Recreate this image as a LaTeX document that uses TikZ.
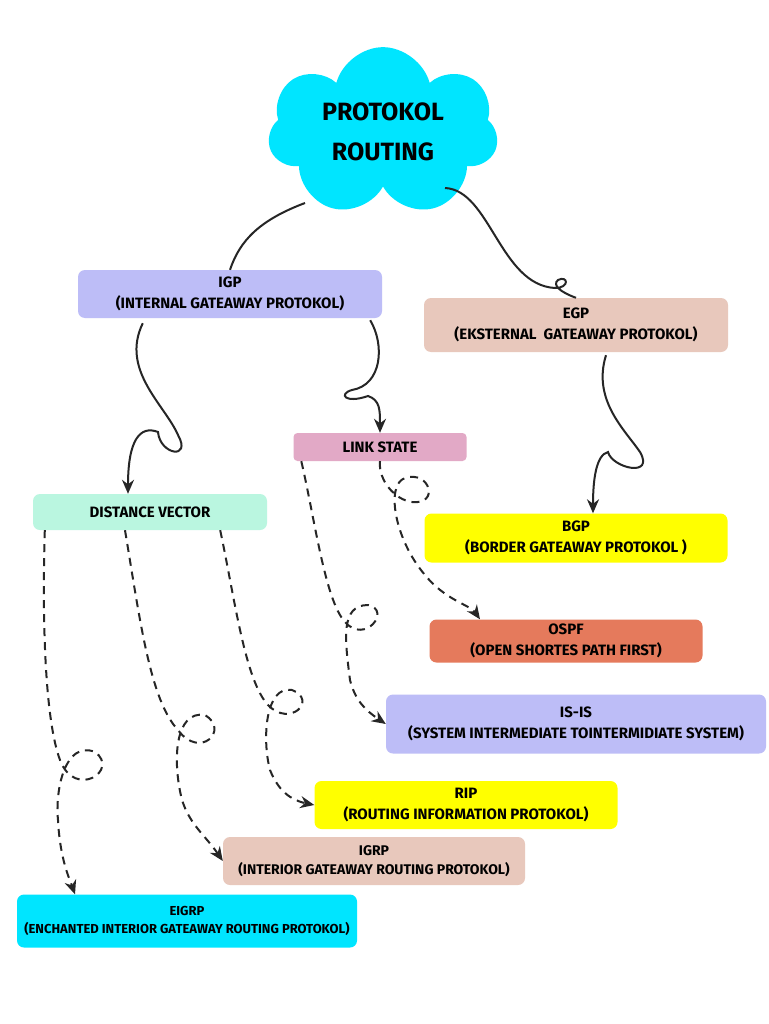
\documentclass[tikz,border=0pt]{standalone}
\usepackage{fontspec}
\setmainfont{Fira Sans}
\usetikzlibrary{shapes.symbols,arrows.meta}
\definecolor{cyanc}{HTML}{00E5FF}
\definecolor{lav}{HTML}{BDBDF7}
\definecolor{skin}{HTML}{E8C8BC}
\definecolor{pinkc}{HTML}{E2A9C6}
\definecolor{mint}{HTML}{BAF6E0}
\definecolor{yel}{HTML}{FFFF00}
\definecolor{ospf}{HTML}{E57A5C}
\begin{document}
\begin{tikzpicture}[x=1pt,y=-1pt,
  box/.style={rounded corners=7pt,inner sep=0pt,align=center,font=\bfseries\fontsize{15}{21}\selectfont},
  link/.style={line width=2pt,black!85},
  dlink/.style={link,dash pattern=on 8pt off 6pt},
  arr/.style={-{Stealth[length=14pt,width=12pt]}}]
\useasboundingbox (0,0) rectangle (768,1024);
\fill[white] (0,0) rectangle (768,1024);
\node[cloud,cloud puffs=7,aspect=1.5,fill=cyanc,minimum width=230,minimum height=155,align=center,
  font=\bfseries\fontsize{25}{40}\selectfont] (root) at (383,132) {PROTOKOL\\ROUTING};
\node[box,fill=lav,minimum width=304,minimum height=48] (igp) at (230,294) {IGP\\(INTERNAL GATEAWAY PROTOKOL)};
\node[box,fill=skin,minimum width=304,minimum height=54] (egp) at (576,325) {EGP\\(EKSTERNAL\ \ GATEAWAY PROTOKOL)};
\node[box,fill=pinkc,minimum width=173,minimum height=28,rounded corners=4pt] (ls) at (380,447) {LINK STATE};
\node[box,fill=mint,minimum width=234,minimum height=36] (dv) at (150,512) {DISTANCE VECTOR};
\node[box,fill=yel,minimum width=303,minimum height=49] (bgp) at (576,538) {BGP\\(BORDER GATEAWAY PROTOKOL )};
\node[box,fill=ospf,minimum width=273,minimum height=43] (ospfn) at (566,641) {OSPF\\(OPEN SHORTES PATH FIRST)};
\node[box,fill=lav,minimum width=380,minimum height=59] (isis) at (576,724) {IS-IS\\(SYSTEM INTERMEDIATE TOINTERMIDIATE SYSTEM)};
\node[box,fill=yel,minimum width=303,minimum height=48] (rip) at (466,805) {RIP\\(ROUTING INFORMATION PROTOKOL)};
\node[box,fill=skin,minimum width=302,minimum height=48,font=\bfseries\fontsize{14}{19}\selectfont] (igrp) at (374,861) {IGRP\\(INTERIOR GATEAWAY ROUTING PROTOKOL)};
\node[box,fill=cyanc,minimum width=340,minimum height=53,font=\bfseries\fontsize{13}{18}\selectfont] (eigrp) at (187,921) {EIGRP\\(ENCHANTED INTERIOR GATEAWAY ROUTING PROTOKOL)};
% solid connectors
\draw[link] (305,203) .. controls (260,220) and (240,240) .. (igp.north);
\draw[link] (445,188) .. controls (490,190) and (500,285) .. (555,288)
  .. controls (570,288) and (568,275) .. (558,280) .. controls (552,285) and (560,292) .. (egp.north);
\draw[link,arr] (igp.south west) ++(65,5) .. controls (120,370) and (165,405) .. (178,435)
  .. controls (192,460) and (160,455) .. (158,432) .. controls (140,425) and (128,440) .. (dv.north west -| 128,0);
\draw[link,arr] (igp.south east) ++(-12,2) .. controls (385,345) and (382,385) .. (352,390)
  .. controls (338,394) and (345,404) .. (368,396) .. controls (380,400) and (380,410) .. (ls.north);
\draw[link,arr] (egp.south) ++(30,3) .. controls (592,400) and (625,430) .. (640,452)
  .. controls (655,478) and (612,468) .. (608,452) .. controls (596,455) and (593,480) .. (bgp.north -| 593,0);
% dashed connectors
\draw[dlink,arr] (ls.south) .. controls (378,480) and (395,500) .. (412,502)
  .. controls (440,505) and (430,470) .. (405,478) .. controls (385,485) and (395,540) .. (425,575)
  .. controls (445,600) and (470,605) .. (ospfn.north west -| 480,0);
\draw[dlink,arr] (ls.south west) ++(8,0) .. controls (315,520) and (325,600) .. (345,622)
  .. controls (365,645) and (392,610) .. (368,605) .. controls (340,605) and (345,640) .. (350,680)
  .. controls (355,700) and (365,710) .. (isis.west);
\draw[dlink,arr] (dv.south east) ++(-47,0) .. controls (235,600) and (245,680) .. (268,705)
  .. controls (290,728) and (318,700) .. (292,690) .. controls (265,685) and (262,740) .. (270,770)
  .. controls (278,790) and (290,800) .. (rip.west);
\draw[dlink,arr] (dv.south) ++(-25,0) .. controls (140,620) and (150,700) .. (178,730)
  .. controls (200,760) and (230,730) .. (205,715) .. controls (175,710) and (172,760) .. (182,800)
  .. controls (190,825) and (205,835) .. (igrp.west);
\draw[dlink,arr] (dv.south west) ++(12,0) .. controls (42,620) and (45,720) .. (60,760)
  .. controls (75,800) and (120,770) .. (95,752) .. controls (65,740) and (55,790) .. (58,820)
  .. controls (60,860) and (70,880) .. (eigrp.north west -| 75,0);
\end{tikzpicture}
\end{document}
